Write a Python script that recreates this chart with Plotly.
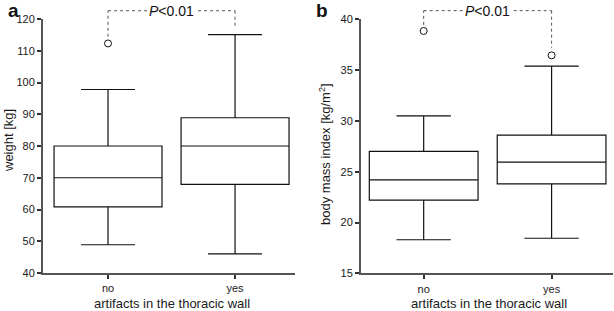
import plotly.graph_objects as go

W, H = 614, 311

categories = ["no", "yes"]

# Panel a: weight [kg]
wt_lower = [48.9, 46.0]
wt_q1 = [60.8, 67.9]
wt_median = [70.0, 80.0]
wt_q3 = [80.0, 88.9]
wt_upper = [97.8, 115.1]
wt_outlier_x = [0]
wt_outlier_y = [112.3]
wt_ticks = [40, 50, 60, 70, 80, 90, 100, 110, 120]

# Panel b: body mass index [kg/m2]
bmi_lower = [18.3, 18.45]
bmi_q1 = [22.2, 23.8]
bmi_median = [24.2, 25.95]
bmi_q3 = [27.0, 28.6]
bmi_upper = [30.5, 35.4]
bmi_outlier_x = [0, 1]
bmi_outlier_y = [38.85, 36.45]
bmi_ticks = [15, 20, 25, 30, 35, 40]

p_text = "<i>P</i>&lt;0.01"

# layout geometry (pixels)
A = dict(x0=43, x1=295, y0=273, y1=19, xr=(-0.512, 1.472), yr=(40, 120))
B = dict(x0=361, x1=613, y0=273.3, y1=19.3, xr=(-0.49, 1.48), yr=(15, 40))


def px2paper_x(px):
    return px / W


def px2paper_y(py):
    return 1 - py / H


def data2paper(p, x=None, y=None):
    out = []
    if x is not None:
        fx = (x - p["xr"][0]) / (p["xr"][1] - p["xr"][0])
        out.append(px2paper_x(p["x0"] + fx * (p["x1"] - p["x0"])))
    if y is not None:
        fy = (y - p["yr"][0]) / (p["yr"][1] - p["yr"][0])
        out.append(px2paper_y(p["y0"] + fy * (p["y1"] - p["y0"])))
    return out[0] if len(out) == 1 else tuple(out)


fig = go.Figure()

box_style = dict(fillcolor="white", line=dict(color="#111", width=1.2),
                 width=0.85, whiskerwidth=0.5, boxpoints=False,
                 hoverinfo="skip", showlegend=False)

for i in range(2):
    fig.add_trace(go.Box(x=[i], q1=[wt_q1[i]], median=[wt_median[i]], q3=[wt_q3[i]],
                         lowerfence=[wt_lower[i]], upperfence=[wt_upper[i]],
                         xaxis="x", yaxis="y", **box_style))
    fig.add_trace(go.Box(x=[i], q1=[bmi_q1[i]], median=[bmi_median[i]], q3=[bmi_q3[i]],
                         lowerfence=[bmi_lower[i]], upperfence=[bmi_upper[i]],
                         xaxis="x2", yaxis="y2", **box_style))

marker = dict(symbol="circle-open", size=7, color="#111", line=dict(width=1))
fig.add_trace(go.Scatter(x=wt_outlier_x, y=wt_outlier_y, mode="markers", marker=marker,
                         xaxis="x", yaxis="y", showlegend=False, hoverinfo="skip",
                         cliponaxis=False))
fig.add_trace(go.Scatter(x=bmi_outlier_x, y=bmi_outlier_y, mode="markers", marker=marker,
                         xaxis="x2", yaxis="y2", showlegend=False, hoverinfo="skip",
                         cliponaxis=False))

tickfont = dict(family="Liberation Sans, Arial", size=11, color="#1a1a1a")
axcommon = dict(showline=True, linecolor="#555", linewidth=2, ticks="outside",
                ticklen=4, tickwidth=2, tickcolor="#333", showgrid=False,
                zeroline=False, tickfont=tickfont, fixedrange=True, automargin=False)

fig.update_layout(
    width=W, height=H, autosize=False,
    margin=dict(l=0, r=0, t=0, b=0, pad=0, autoexpand=False),
    paper_bgcolor="white", plot_bgcolor="white",
    font=dict(family="Liberation Sans, Arial", color="#1a1a1a"),
    xaxis=dict(domain=[px2paper_x(A["x0"]), px2paper_x(A["x1"])], range=list(A["xr"]),
               tickvals=[0, 1], ticktext=categories, anchor="y", **axcommon),
    yaxis=dict(domain=[px2paper_y(A["y0"]), px2paper_y(A["y1"])], range=list(A["yr"]),
               tickvals=wt_ticks, anchor="x", **axcommon),
    xaxis2=dict(domain=[px2paper_x(B["x0"]), px2paper_x(B["x1"])], range=list(B["xr"]),
                tickvals=[0, 1], ticktext=categories, anchor="y2", **axcommon),
    yaxis2=dict(domain=[px2paper_y(B["y0"]), px2paper_y(B["y1"])], range=list(B["yr"]),
                tickvals=bmi_ticks, anchor="x2", **axcommon),
)

# significance brackets
dot = dict(color="#555", width=1, dash="dot")


def bracket(p, top, left_end, right_end):
    xl = data2paper(p, x=0)
    xr = data2paper(p, x=1)
    yt = data2paper(p, y=top)
    yl = data2paper(p, y=left_end)
    yr = data2paper(p, y=right_end)
    for (xa, ya, xb, yb) in [(xl, yl, xl, yt), (xl, yt, xr, yt), (xr, yt, xr, yr)]:
        fig.add_shape(type="line", xref="paper", yref="paper",
                      x0=xa, y0=ya, x1=xb, y1=yb, line=dot)
    fig.add_annotation(xref="paper", yref="paper", x=(xl + xr) / 2, y=yt,
                       text=p_text, showarrow=False, bgcolor="white",
                       borderpad=1, font=dict(size=14, color="#111"),
                       xanchor="center", yanchor="middle")


bracket(A, 122.6, 114.4, 117.2)
bracket(B, 40.85, 39.45, 37.2)

title_font = dict(family="Liberation Sans, Arial", size=13, color="#1a1a1a")
ann = dict(xref="paper", yref="paper", showarrow=False, xanchor="center", yanchor="middle")
# axis titles
fig.add_annotation(x=px2paper_x(8), y=px2paper_y(141), text="weight [kg]",
                   textangle=-90, font=title_font, **ann)
fig.add_annotation(x=px2paper_x(325), y=px2paper_y(154),
                   text="body mass index [kg/m<sup>2</sup>]", textangle=-90,
                   font=title_font, **ann)
fig.add_annotation(x=px2paper_x(172), y=px2paper_y(303),
                   text="artifacts in the thoracic wall", font=title_font, **ann)
fig.add_annotation(x=px2paper_x(489), y=px2paper_y(303),
                   text="artifacts in the thoracic wall", font=title_font, **ann)
# panel letters
letter_font = dict(family="Liberation Sans, Arial", size=19, color="#111")
fig.add_annotation(x=px2paper_x(13), y=px2paper_y(10), text="<b>a</b>",
                   font=letter_font, **ann)
fig.add_annotation(x=px2paper_x(322), y=px2paper_y(10), text="<b>b</b>",
                   font=letter_font, **ann)

fig.write_html("out.html", config={"displayModeBar": False, "staticPlot": True},
               post_script="document.body.style.margin='0';document.body.style.overflow='hidden';")
